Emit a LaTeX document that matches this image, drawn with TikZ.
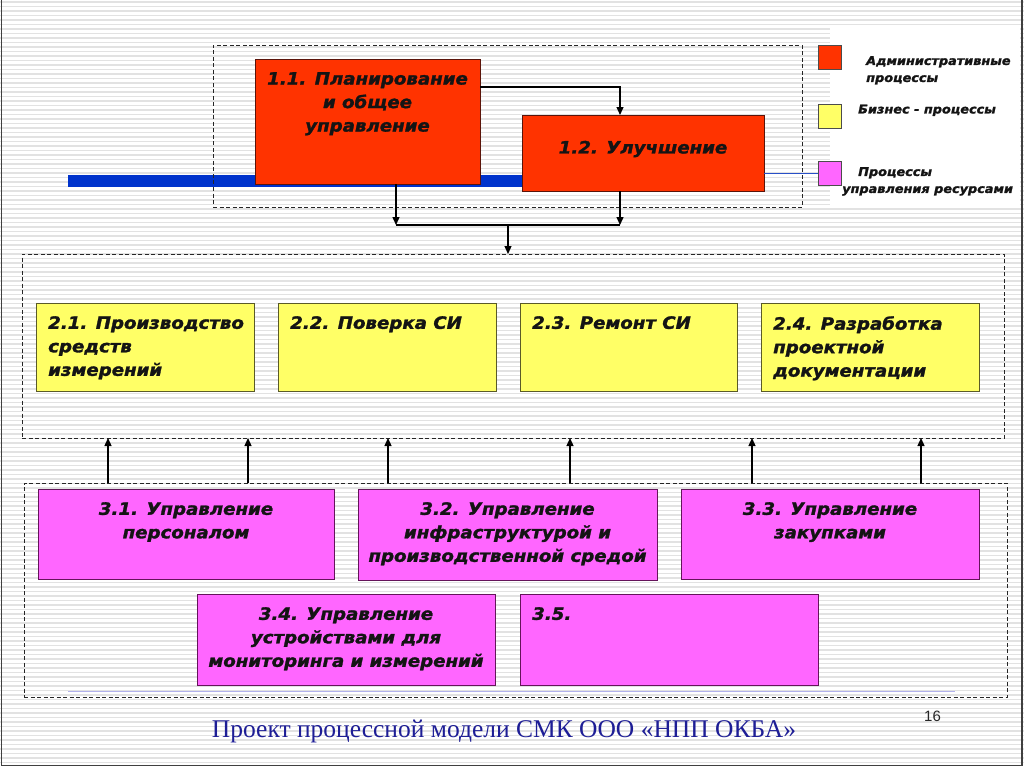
\documentclass[tikz,border=0pt]{standalone}
\usepackage{fontspec}
\setmainfont{DejaVu Sans}
\newfontfamily\vfont{DejaVu Sans}[FakeStretch=1.07, BoldItalicFeatures={FakeBold=1.6}]
\newfontfamily\tfont{Liberation Serif}
\newfontfamily\afont{Liberation Sans}
\usetikzlibrary{arrows.meta}
\definecolor{admred}{RGB}{255,51,0}
\definecolor{admborder}{RGB}{90,20,10}
\definecolor{busyel}{RGB}{255,255,102}
\definecolor{yelborder}{RGB}{90,90,40}
\definecolor{respink}{RGB}{255,102,255}
\definecolor{pinkborder}{RGB}{100,20,90}
\definecolor{barblue}{RGB}{0,51,204}
\definecolor{thinblue}{RGB}{40,80,200}
\definecolor{navy}{RGB}{30,30,150}
\definecolor{stripe}{RGB}{226,226,226}
\tikzset{
  grp/.style={draw=black!85, dashed, dash pattern=on 4pt off 2.5pt, line width=0.8pt, inner sep=0, outer sep=0, anchor=north west},
  procbox/.style={draw, line width=1pt, inner sep=0, outer sep=0, anchor=north west},
  admbox/.style={procbox, fill=admred, draw=admborder},
  busbox/.style={procbox, fill=busyel, draw=yelborder},
  resbox/.style={procbox, fill=respink, draw=pinkborder},
  txt/.style={font=\vfont\bfseries\itshape\fontsize{17}{23.5}\selectfont, inner sep=0, text=black!92},
  ctxt/.style={txt, align=center, anchor=north},
  ltxt/.style={txt, align=left, anchor=north west},
  legtxt/.style={font=\vfont\bfseries\itshape\fontsize{12}{17}\selectfont, inner sep=0, align=left, anchor=north west, text=black!92},
  legsq/.style={draw=black!70, line width=0.8pt, minimum width=23pt, minimum height=24pt, inner sep=0, outer sep=0, anchor=north west},
  arr/.style={-{Triangle[length=8pt,width=7pt]}, line width=1.3pt, black},
  conn/.style={line width=1.3pt, black}
}
\begin{document}
\begin{tikzpicture}[x=1pt,y=-1pt]
\useasboundingbox (0,0) rectangle (1024,768);
% background
\fill[white] (0,0) rectangle (1024,768);
\foreach \yy in {2,6.5,...,766} {
  \draw[stripe, line width=1.6pt] (0,\yy) -- (1024,\yy);
}
\fill[white] (830,28) rectangle (1020,205);
\draw[black!75, line width=1.2pt] (1.5,0) -- (1.5,765.5) -- (1022,765.5) -- (1022,0);

% blue bar
\draw[barblue, line width=12pt] (68,181) -- (530,181);

% groups
\node[grp, minimum width=589pt, minimum height=162pt] (g1) at (213,45) {};
\node[grp, minimum width=982pt, minimum height=184pt] (g2) at (22,254) {};
\node[grp, minimum width=983pt, minimum height=214pt] (g3) at (24,483) {};

% faint line in group 3
\draw[black!25!blue!30, line width=1pt] (68,691) -- (955,691);

% admin boxes
\node[admbox, minimum width=225pt, minimum height=125pt] (b11) at (255,59) {};
\node[admbox, minimum width=242pt, minimum height=76pt] (b12) at (522,115) {};
\node[ctxt] (t11) at ([yshift=-13pt]b11.north) {1.1. Планирование\\и общее\\управление};
\node[txt, anchor=center] (t12) at ([yshift=4pt]b12.center) {1.2. Улучшение};

% business boxes
\node[busbox, minimum width=218pt, minimum height=88pt] (b21) at (36,303) {};
\node[busbox, minimum width=218pt, minimum height=88pt] (b22) at (278,303) {};
\node[busbox, minimum width=217pt, minimum height=88pt] (b23) at (520,303) {};
\node[busbox, minimum width=218pt, minimum height=88pt] (b24) at (761,303) {};
\node[ltxt] (t21) at ([xshift=12pt,yshift=-13pt]b21.north west) {2.1. Производство\\средств\\измерений};
\node[ltxt] (t22) at ([xshift=12pt,yshift=-13pt]b22.north west) {2.2. Поверка СИ};
\node[ltxt] (t23) at ([xshift=12pt,yshift=-13pt]b23.north west) {2.3. Ремонт СИ};
\node[ltxt] (t24) at ([xshift=12pt,yshift=-13pt]b24.north west) {2.4. Разработка\\проектной\\документации};

% resource boxes
\node[resbox, minimum width=296pt, minimum height=90pt] (b31) at (38,489) {};
\node[resbox, minimum width=299pt, minimum height=91pt] (b32) at (358,489) {};
\node[resbox, minimum width=298pt, minimum height=90pt] (b33) at (681,489) {};
\node[resbox, minimum width=298pt, minimum height=91pt] (b34) at (197,594) {};
\node[resbox, minimum width=298pt, minimum height=91pt] (b35) at (520,594) {};
\node[ctxt] (t31) at ([yshift=-13pt]b31.north) {3.1. Управление\\персоналом};
\node[ctxt] (t32) at ([yshift=-13pt]b32.north) {3.2. Управление\\инфраструктурой и\\производственной средой};
\node[ctxt] (t33) at ([yshift=-13pt]b33.north) {3.3. Управление\\закупками};
\node[ctxt] (t34) at ([yshift=-13pt]b34.north) {3.4. Управление\\устройствами для\\мониторинга и измерений};
\node[ltxt] (t35) at ([xshift=12pt,yshift=-13pt]b35.north west) {3.5.};

% connectors top
\draw[arr] ([yshift=34.5pt]b11.east) -| ([xshift=-23pt]b12.north);
\coordinate (jl) at (396,225);
\coordinate (jr) at (620,225);
\coordinate (jm) at (508,225);
\draw[arr] ([xshift=28.5pt]b11.south) -- (jl);
\draw[arr] ([xshift=-23pt]b12.south) -- (jr);
\draw[conn] (jl) -- (jr);
\draw[arr] (jm) -- (jm |- g2.north);

% up arrows
\foreach \xx [count=\i] in {108,248,388,570,752,921} {
  \coordinate (u\i) at (\xx,0);
  \draw[arr] (u\i |- g3.north) -- (u\i |- g2.south);
}

% legend
\node[legsq, fill=admred] (lr) at (818,45) {};
\node[legsq, fill=busyel] (ly) at (818,104) {};
\node[legsq, fill=respink] (lp) at (818,161) {};
\draw[thinblue, line width=0.9pt] (b12.east |- lp.west) -- (lp.west);
\node[legtxt] (lt1) at (866,56) {Административные\\процессы};
\node[legtxt] (lt2) at (858,104.5) {Бизнес - процессы};
\node[legtxt] (lt3) at (842,167) {\hspace*{16pt}Процессы\\управления ресурсами};

% footer
\node[font=\tfont\fontsize{25.5}{30}\selectfont, text=navy, inner sep=0, anchor=base] (foot) at (504,737) {Проект процессной модели СМК ООО «НПП ОКБА»};
\node[font=\afont\fontsize{15}{18}\selectfont, text=black!85, inner sep=0, anchor=base west] (pg) at (924,721) {16};
\end{tikzpicture}
\end{document}
